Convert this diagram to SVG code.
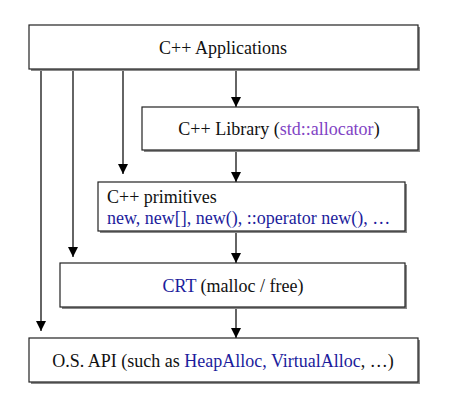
<svg xmlns="http://www.w3.org/2000/svg" width="474" height="403" viewBox="0 0 474 403">
<defs>
<marker id="arr" markerWidth="10" markerHeight="10" refX="10" refY="5" orient="auto" markerUnits="userSpaceOnUse">
<path d="M0,0 L10,5 L0,10 Z" fill="#000"/>
</marker>
</defs>
<style>
.box{fill:#fff;stroke:#222;stroke-width:1.2}
.sh{fill:#8a8a8a}
.t{font-family:"Liberation Serif","Times New Roman",serif;font-size:18px;fill:#111}
.b{fill:#1c1c9c}
.p{fill:#8144c4}
.c{fill:none;stroke:#111;stroke-width:1.3}
</style>
<rect width="474" height="403" fill="#fff"/>
<g id="connectors">
<path class="c" d="M41,69 V331" marker-end="url(#arr)"/>
<path class="c" d="M73,69 V257" marker-end="url(#arr)"/>
<path class="c" d="M123,69 V174" marker-end="url(#arr)"/>
<path class="c" d="M236,69 V107" marker-end="url(#arr)"/>
<path class="c" d="M236,150 V182" marker-end="url(#arr)"/>
<path class="c" d="M236,231 V263" marker-end="url(#arr)"/>
<path class="c" d="M236,307 V338" marker-end="url(#arr)"/>
</g>
<g id="apps">
<rect class="sh" x="31" y="27" width="389" height="44"/>
<rect class="box" x="29" y="25" width="389" height="44"/>
<text class="t" x="223" y="54" text-anchor="middle">C++ Applications</text>
</g>
<g id="library">
<rect class="sh" x="144" y="109" width="276" height="43"/>
<rect class="box" x="142" y="107" width="276" height="43"/>
<text class="t" x="279" y="135" text-anchor="middle">C++ Library (<tspan class="p">std::allocator</tspan>)</text>
</g>
<g id="primitives">
<rect class="sh" x="100" y="184" width="307" height="49"/>
<rect class="box" x="98" y="182" width="307" height="49"/>
<text class="t" x="107" y="203">C++ primitives</text>
<text class="t b" x="107" y="224">new, new[], new(), ::operator new(), …</text>
</g>
<g id="crt">
<rect class="sh" x="62" y="265" width="345" height="44"/>
<rect class="box" x="60" y="263" width="345" height="44"/>
<text class="t" x="233" y="292" text-anchor="middle"><tspan class="b">CRT</tspan> (malloc / free)</text>
</g>
<g id="osapi">
<rect class="sh" x="31" y="340" width="389" height="44"/>
<rect class="box" x="29" y="338" width="389" height="44"/>
<text class="t" x="223" y="367" text-anchor="middle">O.S. API (such as <tspan class="b">HeapAlloc, VirtualAlloc</tspan>, …)</text>
</g>
</svg>
